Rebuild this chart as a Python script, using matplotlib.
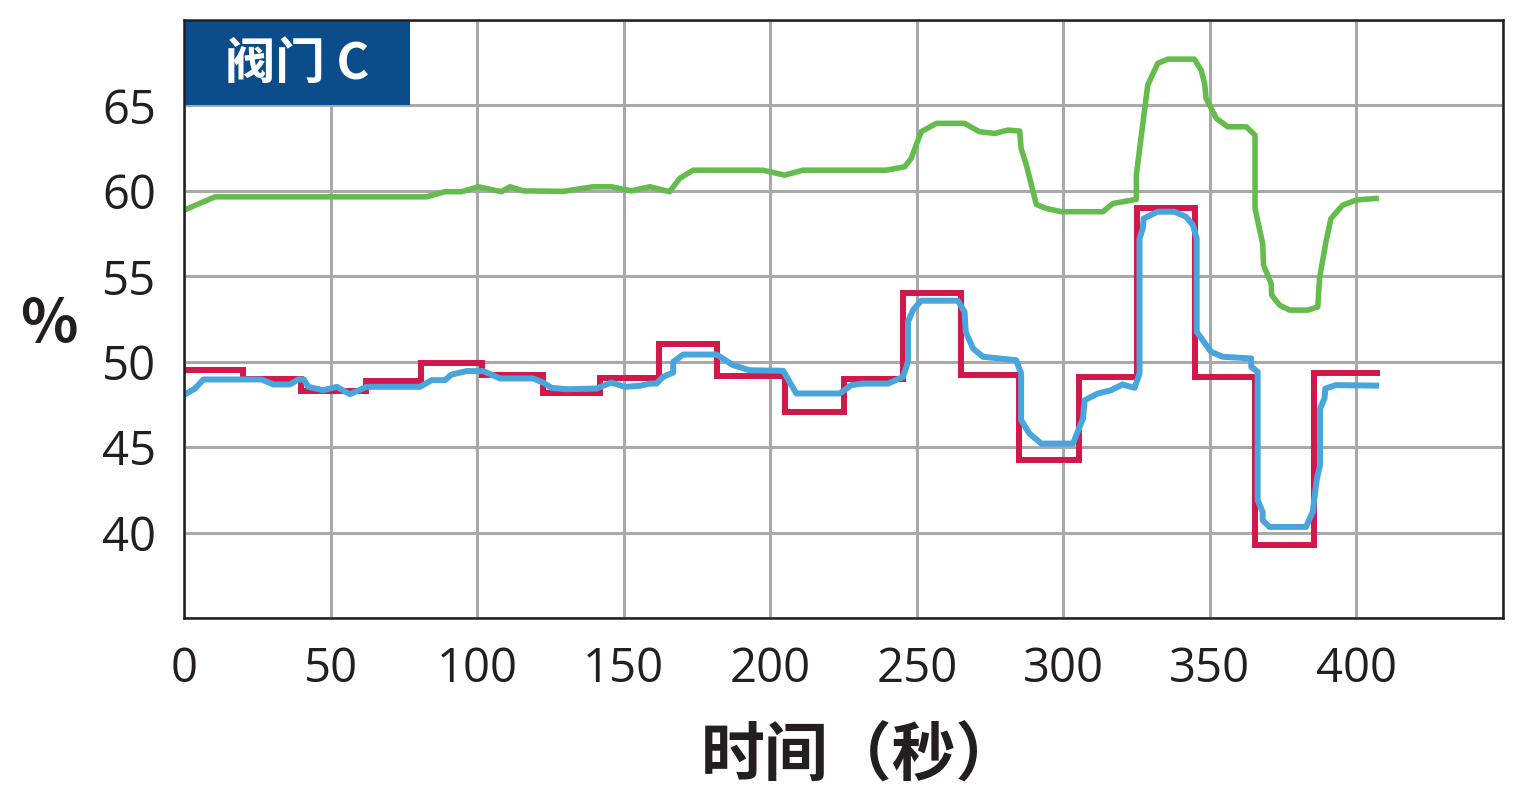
import matplotlib
matplotlib.use("Agg")
import matplotlib.pyplot as plt
from matplotlib.patches import Rectangle

# ---------------- data ----------------
green_t = [0, 10.6, 82.8, 89, 94.7, 100.4, 108.3, 111.2, 115.7, 129.4, 139.6, 145.8, 152.7,
           158.9, 165.7, 169.1, 173.7, 197.5, 204.9, 211.2, 239.6, 245.9, 248.1, 251.5, 256.7,
           266.3, 271.4, 276.6, 281.1, 285.1, 285.6, 287.4, 290.8, 294.2, 299.3, 313.5, 316.9,
           324.9, 324.9, 328.8, 332.2, 335.7, 344.7, 347.0, 348.2, 348.7, 352.2, 356.1, 362.4,
           365.4, 365.4, 368.0, 368.3, 370.9, 371.1, 373.8, 377.2, 383.4, 386.8, 387.4, 389.6,
           391.3, 395.3, 399.8, 406.7]
green_v = [58.87, 59.65, 59.65, 59.95, 59.95, 60.24, 59.95, 60.24, 60.0, 59.97, 60.24, 60.24, 60.0,
           60.24, 59.95, 60.73, 61.21, 61.21, 60.92, 61.21, 61.21, 61.41, 61.9, 63.46, 63.95,
           63.95, 63.46, 63.36, 63.56, 63.5, 62.48, 61.5, 59.2, 58.97, 58.78, 58.78, 59.26,
           59.5, 60.92, 66.19, 67.46, 67.71, 67.71, 67.07, 66.29, 65.41, 64.24, 63.75, 63.75,
           63.26, 58.97, 56.92, 55.65, 54.58, 53.89, 53.31, 53.02, 53.02, 53.21, 54.87, 57.02,
           58.38, 59.16, 59.46, 59.56]

red_t = [0, 20, 40, 62, 81, 101.5, 122.5, 142, 162, 182, 205, 225, 245.3, 265, 285,
         305.5, 325, 345, 365.5, 385.5, 407]
red_v = [49.5, 49.0, 48.3, 48.9, 49.95, 49.2, 48.15, 49.05, 51.05, 49.15, 47.05, 49.0, 54.0,
         49.2, 44.25, 49.1, 59.0, 49.1, 39.3, 49.35, 49.35]

blue_t = [0, 3.75, 6.6, 26.5, 30.5, 36.1, 39.0, 40.9, 42.4, 47.5, 52.1, 56.6, 62.3, 80.5, 84.5,
          89.0, 91.3, 96.4, 102.1, 107.8, 119.1, 122.5, 125.4, 130.5, 140.7, 145.8, 150.4,
          155.5, 158.9, 161.2, 163.4, 166.9, 166.9, 170.3, 181.7, 187.3, 193.0, 204.4, 208.9,
          223.7, 227.7, 231.6, 240.2, 245.3, 247.0, 247.0, 248.7, 251.5, 264.0, 266.3, 266.7,
          269.2, 272.6, 283.9, 285.6, 285.6, 288.4, 292.5, 303.3, 306.7, 307.3, 311.8, 316.3,
          320.2, 324.3, 326.0, 326.0, 327.1, 327.4, 332.2, 337.9, 341.9, 344.2, 345.5, 345.5,
          350.4, 354.4, 364.1, 364.1, 366.3, 366.3, 368.0, 368.0, 370.3, 382.8, 385.1, 386.5,
          387.6, 387.6, 389.1, 389.4, 393.0, 406.7]
blue_v = [48.05, 48.43, 48.96, 48.96, 48.67, 48.67, 48.96, 48.96, 48.53, 48.33, 48.53, 48.1,
          48.53, 48.53, 48.92, 48.92, 49.25, 49.45, 49.45, 49.02, 49.02, 48.78, 48.47, 48.39,
          48.43, 48.78, 48.53, 48.59, 48.72, 48.72, 49.11, 49.37, 49.99, 50.42, 50.42, 49.8,
          49.5, 49.47, 48.14, 48.14, 48.63, 48.72, 48.72, 49.11, 49.99, 52.34, 53.02, 53.57,
          53.57, 52.92, 51.75, 50.77, 50.29, 50.09, 49.31, 46.58, 45.8, 45.21, 45.21, 46.67,
          47.75, 48.14, 48.33, 48.67, 48.47, 49.31, 57.21, 57.8, 58.38, 58.78, 58.78, 58.48,
          57.99, 57.21, 51.75, 50.58, 50.29, 50.19, 49.7, 49.41, 41.89, 41.21, 40.72, 40.33,
          40.33, 41.21, 43.16, 43.94, 47.26, 47.85, 48.43, 48.63, 48.6]

x_ticks = [0, 50, 100, 150, 200, 250, 300, 350, 400]
y_ticks = [40, 45, 50, 55, 60, 65]
title_text = "阀门 C"
x_label = "时间（秒）"
y_label = "%"

# ---------------- style ----------------
GREEN = "#64bc4c"
RED = "#d2174b"
BLUE = "#48a6dc"
NAVY = "#0b4c8a"
GRID = "#a9a9ab"
TXT = "#231f20"
CJK = ["Noto Sans CJK SC", "DejaVu Sans"]

fig = plt.figure(figsize=(15.36, 8), dpi=100)
ax = fig.add_axes([184 / 1536, 1 - 618 / 800, (1503 - 184) / 1536, (618 - 20) / 800])

ax.set_xlim(0, 450)
ax.set_ylim(35, 70)

# grid
for xv in range(0, 451, 50):
    ax.axvline(xv, color=GRID, lw=2.2, zorder=1)
for yv in range(35, 71, 5):
    ax.axhline(yv, color=GRID, lw=2.2, zorder=1)

# title box
ax.add_patch(Rectangle((0, 65), 77, 5, facecolor=NAVY, edgecolor="none", zorder=2))
ax.text(38.5, 67.4, title_text, color="white", fontsize=36, fontweight="bold",
        style="italic", family=CJK, ha="center", va="center", zorder=3)

ax.plot(green_t, green_v, color=GREEN, lw=4.0, zorder=4, solid_joinstyle="round")
ax.plot(red_t, red_v, color=RED, lw=4.3, drawstyle="steps-post", zorder=5,
        solid_joinstyle="miter")
ax.plot(blue_t, blue_v, color=BLUE, lw=4.3, zorder=6, solid_joinstyle="round")

ax.set_xticks(x_ticks)
ax.set_yticks(y_ticks)
ax.set_xticklabels([str(v) for v in x_ticks], fontsize=34, family="Open Sans", color=TXT)
ax.set_yticklabels([str(v) for v in y_ticks], fontsize=34, family="Open Sans", color=TXT)
ax.tick_params(axis="both", length=0)
ax.tick_params(axis="x", pad=20)
ax.tick_params(axis="y", pad=20)

for s in ax.spines.values():
    s.set_color("#231f20")
    s.set_linewidth(1.8)
    s.set_zorder(10)

fig.text(49 / 1536, 1 - 325 / 800, y_label, fontsize=43, fontweight="bold", family=CJK,
         color=TXT, ha="center", va="center")
fig.text(860 / 1536, 1 - 757 / 800, x_label, fontsize=46, fontweight="bold", family=CJK,
         color=TXT, ha="center", va="center")

fig.savefig("out.png", dpi=100, facecolor="white")
